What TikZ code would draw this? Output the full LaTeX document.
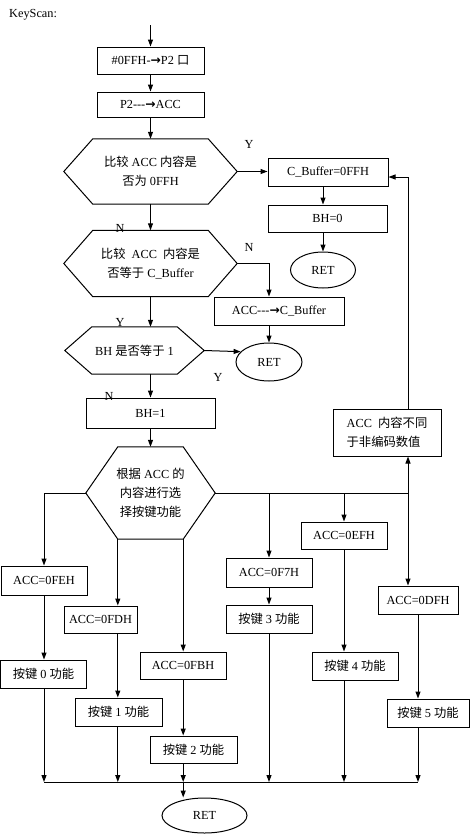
\documentclass[tikz,border=0pt]{standalone}
\usepackage{fontspec}
\setmainfont{Liberation Serif}
\newfontfamily\cjkfont{Noto Sans CJK SC}
\newfontfamily\symfont{DejaVu Sans}
\newcommand\zh[1]{{\cjkfont #1}}
\newcommand\rarr{{\symfont\bfseries →}}
\usetikzlibrary{arrows.meta,shapes.geometric,calc}
\newcommand\hexdraw[2]{\draw[ln] (#1.west) -- ($(#1.north west)+(#2,0)$) -- ($(#1.north east)+(-#2,0)$) -- (#1.east) -- ($(#1.south east)+(-#2,0)$) -- ($(#1.south west)+(#2,0)$) -- cycle;}
\tikzset{
  every node/.style={font=\fontsize{12.3}{19}\selectfont},
  box/.style={draw,rectangle,inner sep=0pt,line width=1pt},
  hexn/.style={rectangle,inner sep=0pt,align=center},
  oval/.style={draw,ellipse,inner sep=0pt,line width=1pt},
  lbl/.style={inner sep=0pt},
  arr/.style={-{Triangle[length=7pt,width=5pt]},line width=1pt},
  ln/.style={line width=1pt},
}
\begin{document}
\begin{tikzpicture}[x=1pt,y=-1pt]
\useasboundingbox (0,0) rectangle (474,835);
\node[lbl,anchor=west] (title) at (9,15) {KeyScan:};
\coordinate (start) at (150.5,25);
\node[box,minimum width=107pt,minimum height=27pt] (b1) at (150.5,60.5) {\#0FFH-\rarr P2 \zh{口}};
\node[box,minimum width=107pt,minimum height=25pt] (b2) at (150.5,104.5) {P2-{}-{}-\rarr ACC};
\node[hexn,minimum width=173pt,minimum height=65pt] (h1) at (150.5,171.5) {\zh{比较} ACC \zh{内容是}\\\zh{否为} 0FFH};
\hexdraw{h1}{29}
\node[box,minimum width=120pt,minimum height=28pt] (cbuf) at (328,172) {C\_Buffer=0FFH};
\node[box,minimum width=119pt,minimum height=27pt] (bh0) at (327.5,218.5) {BH=0};
\node[oval,minimum width=65pt,minimum height=36pt] (ret1) at (323,270) {RET};
\node[hexn,minimum width=173pt,minimum height=66pt] (h2) at (150.5,263.5) {\zh{比较}\ \ ACC\ \ \zh{内容是}\\\zh{否等于} C\_Buffer};
\hexdraw{h2}{29}
\node[box,minimum width=130pt,minimum height=28pt] (accbuf) at (279,311) {ACC-{}-{}-\rarr C\_Buffer};
\node[hexn,minimum width=139pt,minimum height=47pt] (h3) at (134.5,350.5) {BH \zh{是否等于} 1};
\hexdraw{h3}{27}
\node[oval,minimum width=66pt,minimum height=38pt] (ret2) at (269,362) {RET};
\node[box,minimum width=129pt,minimum height=30pt] (bh1) at (150.5,413) {BH=1};
\node[hexn,minimum width=129pt,minimum height=92pt] (h4) at (150.5,493) {\zh{根据} ACC \zh{的}\\\zh{内容进行选}\\\zh{择按键功能}};
\hexdraw{h4}{32}
\node[box,minimum width=108pt,minimum height=47pt,align=left] (nz) at (387,432.5) {ACC\ \ \zh{内容不同}\\\zh{于非编码数值}};
\node[box,minimum width=86pt,minimum height=29pt] (fe) at (44,580.5) {ACC=0FEH};
\node[box,minimum width=73pt,minimum height=27pt] (fd) at (100.5,619.5) {ACC=0FDH};
\node[box,minimum width=86pt,minimum height=27pt] (fb) at (183,665.5) {ACC=0FBH};
\node[box,minimum width=86pt,minimum height=29pt] (f7) at (269,572.5) {ACC=0F7H};
\node[box,minimum width=86pt,minimum height=27pt] (ef) at (344,535.5) {ACC=0EFH};
\node[box,minimum width=80pt,minimum height=28pt] (df) at (418,600) {ACC=0DFH};
\node[box,minimum width=86pt,minimum height=28pt] (k0) at (43.5,674) {\zh{按键} 0 \zh{功能}};
\node[box,minimum width=87pt,minimum height=28pt] (k1) at (118.5,712) {\zh{按键} 1 \zh{功能}};
\node[box,minimum width=87pt,minimum height=27pt] (k2) at (193.5,749.5) {\zh{按键} 2 \zh{功能}};
\node[box,minimum width=86pt,minimum height=28pt] (k3) at (269,619) {\zh{按键} 3 \zh{功能}};
\node[box,minimum width=86pt,minimum height=28pt] (k4) at (355,666) {\zh{按键} 4 \zh{功能}};
\node[box,minimum width=82pt,minimum height=28pt] (k5) at (428,713) {\zh{按键} 5 \zh{功能}};
\node[oval,minimum width=85pt,minimum height=35pt] (ret3) at (204.5,815.5) {RET};
\node[lbl] (yA) at (249,144) {Y};
\node[lbl] (nA) at (120,228) {N};
\node[lbl] (nB) at (249,247) {N};
\node[lbl] (yB) at (120,322) {Y};
\node[lbl] (yC) at (218,377) {Y};
\node[lbl] (nC) at (109,396) {N};
\coordinate (h4bl) at ($(h4.south west)+(32,0)$);
\coordinate (h4br) at ($(h4.south east)+(-32,0)$);
\coordinate (jr) at (408,493);
\coordinate (busL) at (44,782);
\draw[arr] (start) -- (b1.north);
\draw[arr] (b1.south) -- (b2.north);
\draw[arr] (b2.south) -- (h1.north);
\draw[arr] (h1.east) -- (h1.east -| cbuf.west);
\draw[arr] (cbuf.south -| ret1.north) -- (bh0.north -| ret1.north);
\draw[arr] (bh0.south -| ret1.north) -- (ret1.north);
\draw[arr] (h1.south) -- (h2.north);
\draw[arr] (h2.east) -| (ret2.north |- accbuf.north);
\draw[arr] (h2.south) -- (h2.south |- h3.north);
\draw[arr] (ret2.north |- accbuf.south) -- (ret2.north);
\draw[arr] (h3.east) -- (ret2.160);
\draw[arr] (h2.south |- h3.south) -- (bh1.north);
\draw[arr] (bh1.south) -- (h4.north);
\draw[arr] (h4.west) -| (fe.north);
\draw[ln] (h4.east) -- (jr);
\draw[arr] (jr) -- (jr |- nz.south);
\draw[arr] (jr) -- (jr |- df.north);
\draw[arr] (h4.east -| f7.north) -- (f7.north);
\draw[arr] (h4.east -| ef.north) -- (ef.north);
\draw[arr] (h4bl) -- (h4bl |- fd.north);
\draw[arr] (h4br) -- (h4br |- fb.north);
\draw[arr] (fe.south) -- (fe.south |- k0.north);
\draw[arr] (h4bl |- fd.south) -- (h4bl |- k1.north);
\draw[arr] (h4br |- fb.south) -- (h4br |- k2.north);
\draw[arr] (f7.south) -- (k3.north);
\draw[arr] (ef.south) -- (ef.south |- k4.north);
\draw[arr] (df.south) -- (df.south |- k5.north);
\draw[ln] (busL) -- (busL -| df.south);
\draw[arr] (fe.south |- k0.south) -- (busL);
\draw[arr] (h4bl |- k1.south) -- (h4bl |- busL);
\draw[arr] (h4br |- k2.south) -- (h4br |- busL);
\draw[arr] (k3.south) -- (k3.south |- busL);
\draw[arr] (ef.south |- k4.south) -- (ef.south |- busL);
\draw[arr] (df.south |- k5.south) -- (df.south |- busL);
\draw[arr] (h4br |- busL) -- (h4br |- ret3.north);
\draw[arr] (jr |- nz.north) |- ($(cbuf.east)+(0,5)$);
\end{tikzpicture}
\end{document}
